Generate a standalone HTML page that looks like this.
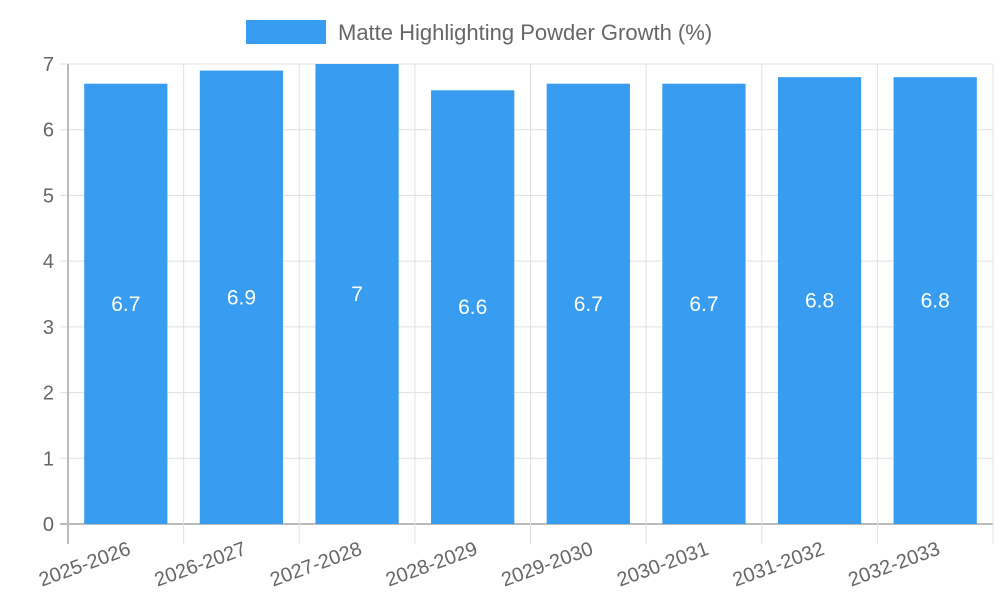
<!DOCTYPE html>
<html><head><meta charset="utf-8"><style>
body{margin:0;background:#fff;font-family:"Liberation Sans",sans-serif}
svg text{font-family:"Liberation Sans",sans-serif}
</style></head><body>
<svg id="chart" width="1000" height="600" xmlns="http://www.w3.org/2000/svg">
<g id="legend">
<rect x="246" y="20" width="80" height="24" fill="#389cf0"/>
<text x="338" y="40" font-size="22" fill="#666">Matte Highlighting Powder Growth (%)</text>
</g>
<g id="grid"></g><g id="bars"></g><g id="labels"></g>
</svg>
<script>
const categories=["2025-2026","2026-2027","2027-2028","2028-2029","2029-2030","2030-2031","2031-2032","2032-2033"];
const values=[6.7,6.9,7,6.6,6.7,6.7,6.8,6.8];
const yTicks=[0,1,2,3,4,5,6,7];
const L=68,R=993,T=64,B=524,yMax=7;
const ns="http://www.w3.org/2000/svg";
const y=v=>B-(v/yMax)*(B-T);
const bw=(R-L)/categories.length;
const x=i=>L+i*bw;
function mk(tag,attrs,parent,txt){const e=document.createElementNS(ns,tag);for(const k in attrs)e.setAttribute(k,attrs[k]);if(txt!==undefined)e.textContent=txt;document.getElementById(parent).appendChild(e);return e;}
yTicks.forEach(t=>{
 const g=mk('line',{x1:L-8,x2:R,y1:y(t),y2:y(t),stroke:t===0?'#bbb':'#e0e0e0','stroke-width':t===0?2:1},'grid');
 
 
 const tx=mk('text',{x:L-14,y:y(t)+7,'text-anchor':'end','font-size':20,fill:'#666'},'grid',t);
 
 
});
for(let i=0;i<=categories.length;i++){
 const l=mk('line',{x1:x(i),x2:x(i),y1:T,y2:B+20,stroke:i===0?'#bbb':'#e0e0e0','stroke-width':i===0?2:1},'grid');
 
 
}
categories.forEach((c,i)=>{
 const bx=x(i)+bw*0.14, w=bw*0.72;
 const r=mk('rect',{x:bx,y:y(values[i]),width:w,height:B-y(values[i]),fill:'#389cf0'},'bars');
 
 
 const v=mk('text',{x:bx+w/2,y:(y(values[i])+B)/2+7,'text-anchor':'middle','font-size':21,fill:'#fff'},'labels',values[i]);
 
 
 const cx=x(i)+bw/2+6, cy=B+30;
 const lt=mk('text',{x:cx,y:cy,'text-anchor':'end','font-size':20,fill:'#666',transform:`rotate(-20 ${cx} ${cy})`},'labels',c);
 
 
});
</script>
</body></html>
